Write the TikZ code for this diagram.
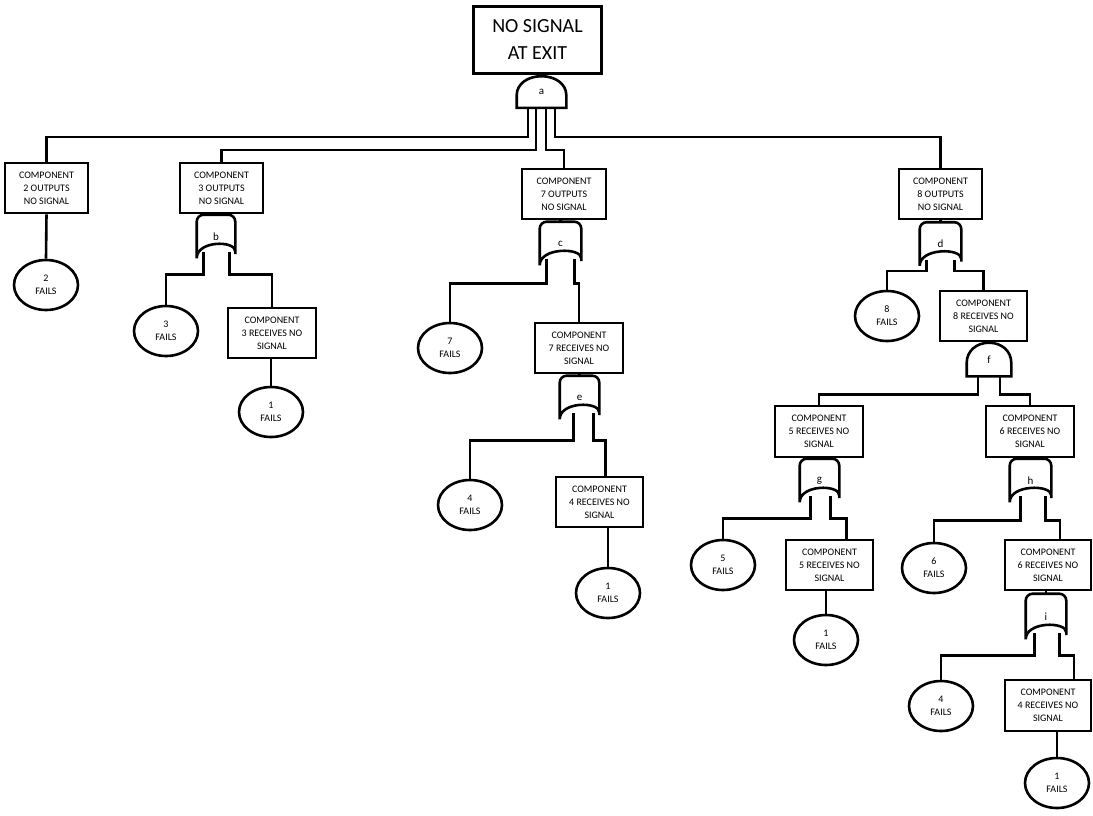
\documentclass[tikz,border=0pt]{standalone}
\usepackage{fontspec}
\setmainfont{Carlito}
\usetikzlibrary{shapes.geometric,calc}
\begin{document}
\begin{tikzpicture}[x=1pt,y=-1pt,line width=2.6pt,
  box/.style={draw,rectangle,align=center,font=\fontsize{10}{12.8}\selectfont,inner sep=0pt,minimum width=86pt,minimum height=50pt},
  ev/.style={draw,ellipse,align=center,font=\fontsize{10}{12.8}\selectfont,inner sep=0pt,minimum width=64pt,minimum height=50pt},
  gate/.style={inner sep=0pt,font=\fontsize{11}{12}\selectfont,minimum width=38pt,minimum height=41pt},
  andg/.style={inner sep=0pt,font=\fontsize{11}{12}\selectfont,minimum width=44pt,minimum height=29pt}]
\useasboundingbox (0,0) rectangle (1093,815);
\newcommand{\ORg}[1]{\draw[rounded corners=7pt] (#1.south west) -- (#1.north west) -- (#1.north east) -- (#1.south east) [sharp corners] .. controls ([yshift=18pt]#1.south east) and ([yshift=18pt]#1.south west) .. (#1.south west) -- cycle;}
\newcommand{\ANDg}[1]{\draw (#1.south west) -- (#1.south east) -- ($(#1.south east)!0.4!(#1.north east)$) .. controls ($(#1.south east)!0.4!(#1.north east)!0.6!(#1.north east)$) and ($(#1.north)!0.55!(#1.north east)$) .. (#1.north) .. controls ($(#1.north)!0.55!(#1.north west)$) and ($(#1.south west)!0.4!(#1.north west)!0.6!(#1.north west)$) .. ($(#1.south west)!0.4!(#1.north west)$) -- cycle;}
% top
\node[draw,rectangle,minimum width=128pt,minimum height=67pt,align=center,font=\fontsize{20}{27}\selectfont] (top) at (537.5,40) {NO SIGNAL\\AT EXIT};
\node[andg,minimum width=47pt] (a) at (541.5,92) {a}; \ANDg{a}
\draw (top.south) -- (a.north);
% level 1
\node[box,minimum width=83pt] (c2) at (46.5,188) {COMPONENT\\2 OUTPUTS\\NO SIGNAL};
\node[box,minimum width=83pt] (c3) at (221.5,188) {COMPONENT\\3 OUTPUTS\\NO SIGNAL};
\node[box,minimum width=84pt] (c7) at (564,194) {COMPONENT\\7 OUTPUTS\\NO SIGNAL};
\node[box,minimum width=83pt] (c8) at (940.5,194) {COMPONENT\\8 OUTPUTS\\NO SIGNAL};
\draw ([xshift=-13.5pt]a.south) -- ++(0,29) -| (c2.north);
\draw ([xshift=-5.5pt]a.south) -- ++(0,42) -| (c3.north);
\draw ([xshift=4.5pt]a.south) -- ++(0,42) -| (c7.north);
\draw ([xshift=13.5pt]a.south) -- ++(0,29) -| (c8.north);
% branch 2
\node[ev] (f2) at (46,285) {2\\FAILS};
\draw (c2.south) -- (f2.north);
% branch 3
\node[gate,minimum width=36pt] (b) at (216,236.5) {b}; \ORg{b}
\draw (c3.south -| b.north) -- (b.north);
\node[ev] (f3) at (166,331) {3\\FAILS};
\node[box,minimum width=88pt] (r3) at (272,333) {COMPONENT\\3 RECEIVES NO\\SIGNAL};
\node[ev] (f1a) at (271,412) {1\\FAILS};
\draw ([xshift=7pt,yshift=6pt]b.south west) -- ++(0,22) -| (f3.north);
\draw ([xshift=-6pt,yshift=6pt]b.south east) -- ++(0,22) -| (r3.north);
\draw (r3.south -| f1a.north) -- (f1a.north);
% branch 7
\node[gate,minimum width=39pt] (c) at (560.5,243.5) {c}; \ORg{c}
\draw (c7.south -| c.north) -- (c.north);
\node[ev] (f7) at (450,348) {7\\FAILS};
\node[box,minimum width=88pt] (r7) at (579,348) {COMPONENT\\7 RECEIVES NO\\SIGNAL};
\draw ([xshift=7pt,yshift=6pt]c.south west) -- ++(0,24) -| (f7.north);
\draw ([xshift=-7pt,yshift=6pt]c.south east) -- ++(0,24) -| (r7.north);
\node[gate,minimum width=37pt] (e) at (579.5,397.5) {e}; \ORg{e}
\draw (r7.south -| e.north) -- (e.north);
\node[ev] (f4a) at (470,505) {4\\FAILS};
\node[box,minimum width=87pt] (r4a) at (599.5,502) {COMPONENT\\4 RECEIVES NO\\SIGNAL};
\node[ev] (f1b) at (608,593) {1\\FAILS};
\draw ([xshift=14pt,yshift=6pt]e.south west) -- ++(0,27) -| (f4a.north);
\draw ([xshift=-6pt,yshift=6pt]e.south east) -- ++(0,27) -| ([xshift=6pt]r4a.north);
\draw (r4a.south -| f1b.north) -- (f1b.north);
% branch 8
\node[gate,minimum width=39pt] (d) at (940.5,244) {d}; \ORg{d}
\draw (c8.south -| d.north) -- (d.north);
\node[ev] (f8) at (887,316) {8\\FAILS};
\node[box,minimum width=87pt] (r8) at (983.5,316) {COMPONENT\\8 RECEIVES NO\\SIGNAL};
\draw ([xshift=7pt,yshift=6pt]d.south west) -- ++(0,11) -| (f8.north);
\draw ([xshift=-7pt,yshift=6pt]d.south east) -- ++(0,11) -| (r8.north);
\node[andg,minimum width=42pt,minimum height=31pt] (f) at (989,359.5) {f}; \ANDg{f}
\draw (r8.south -| f.north) -- (f.north);
\node[box,minimum width=88pt,minimum height=51pt] (r5) at (819,431.5) {COMPONENT\\5 RECEIVES NO\\SIGNAL};
\node[box,minimum width=88pt,minimum height=51pt] (r6) at (1030,431.5) {COMPONENT\\6 RECEIVES NO\\SIGNAL};
\draw ([xshift=-11pt]f.south) -- ++(0,18) -| (r5.north);
\draw ([xshift=11pt]f.south) -- ++(0,18) -| (r6.north);
% g
\node[gate,minimum width=37pt] (g) at (819.5,480.5) {g}; \ORg{g}
\draw (r5.south -| g.north) -- (g.north);
\node[ev] (f5) at (723,565) {5\\FAILS};
\node[box,minimum width=87pt] (r5b) at (829.5,565) {COMPONENT\\5 RECEIVES NO\\SIGNAL};
\node[ev] (f1c) at (826,640) {1\\FAILS};
\draw ([xshift=11pt,yshift=6pt]g.south west) -- ++(0,22) -| (f5.north);
\draw ([xshift=-9pt,yshift=6pt]g.south east) -- ++(0,22) -| ([xshift=17pt]r5b.north);
\draw (r5b.south -| f1c.north) -- (f1c.north);
% h
\node[gate,minimum width=39pt] (h) at (1030.5,480.5) {h}; \ORg{h}
\draw (r6.south -| h.north) -- (h.north);
\node[ev] (f6) at (934,568) {6\\FAILS};
\node[box,minimum width=86pt] (r6b) at (1048,565) {COMPONENT\\6 RECEIVES NO\\SIGNAL};
\draw ([xshift=11pt,yshift=6pt]h.south west) -- ++(0,24) -| (f6.north);
\draw ([xshift=-6pt,yshift=6pt]h.south east) -- ++(0,24) -| ([xshift=12pt]r6b.north);
% i
\node[gate,minimum width=38pt,minimum height=43pt] (i) at (1046,616.5) {i}; \ORg{i}
\draw (r6b.south -| i.north) -- (i.north);
\node[ev] (f4b) at (941,706) {4\\FAILS};
\node[box,minimum width=86pt,minimum height=51pt] (r4b) at (1048,705.5) {COMPONENT\\4 RECEIVES NO\\SIGNAL};
\node[ev] (f1d) at (1057,783) {1\\FAILS};
\draw ([xshift=9pt,yshift=6pt]i.south west) -- ++(0,22) -| (f4b.north);
\draw ([xshift=-7pt,yshift=6pt]i.south east) -- ++(0,22) -| ([xshift=26pt]r4b.north);
\draw (r4b.south -| f1d.north) -- (f1d.north);
\end{tikzpicture}
\end{document}
